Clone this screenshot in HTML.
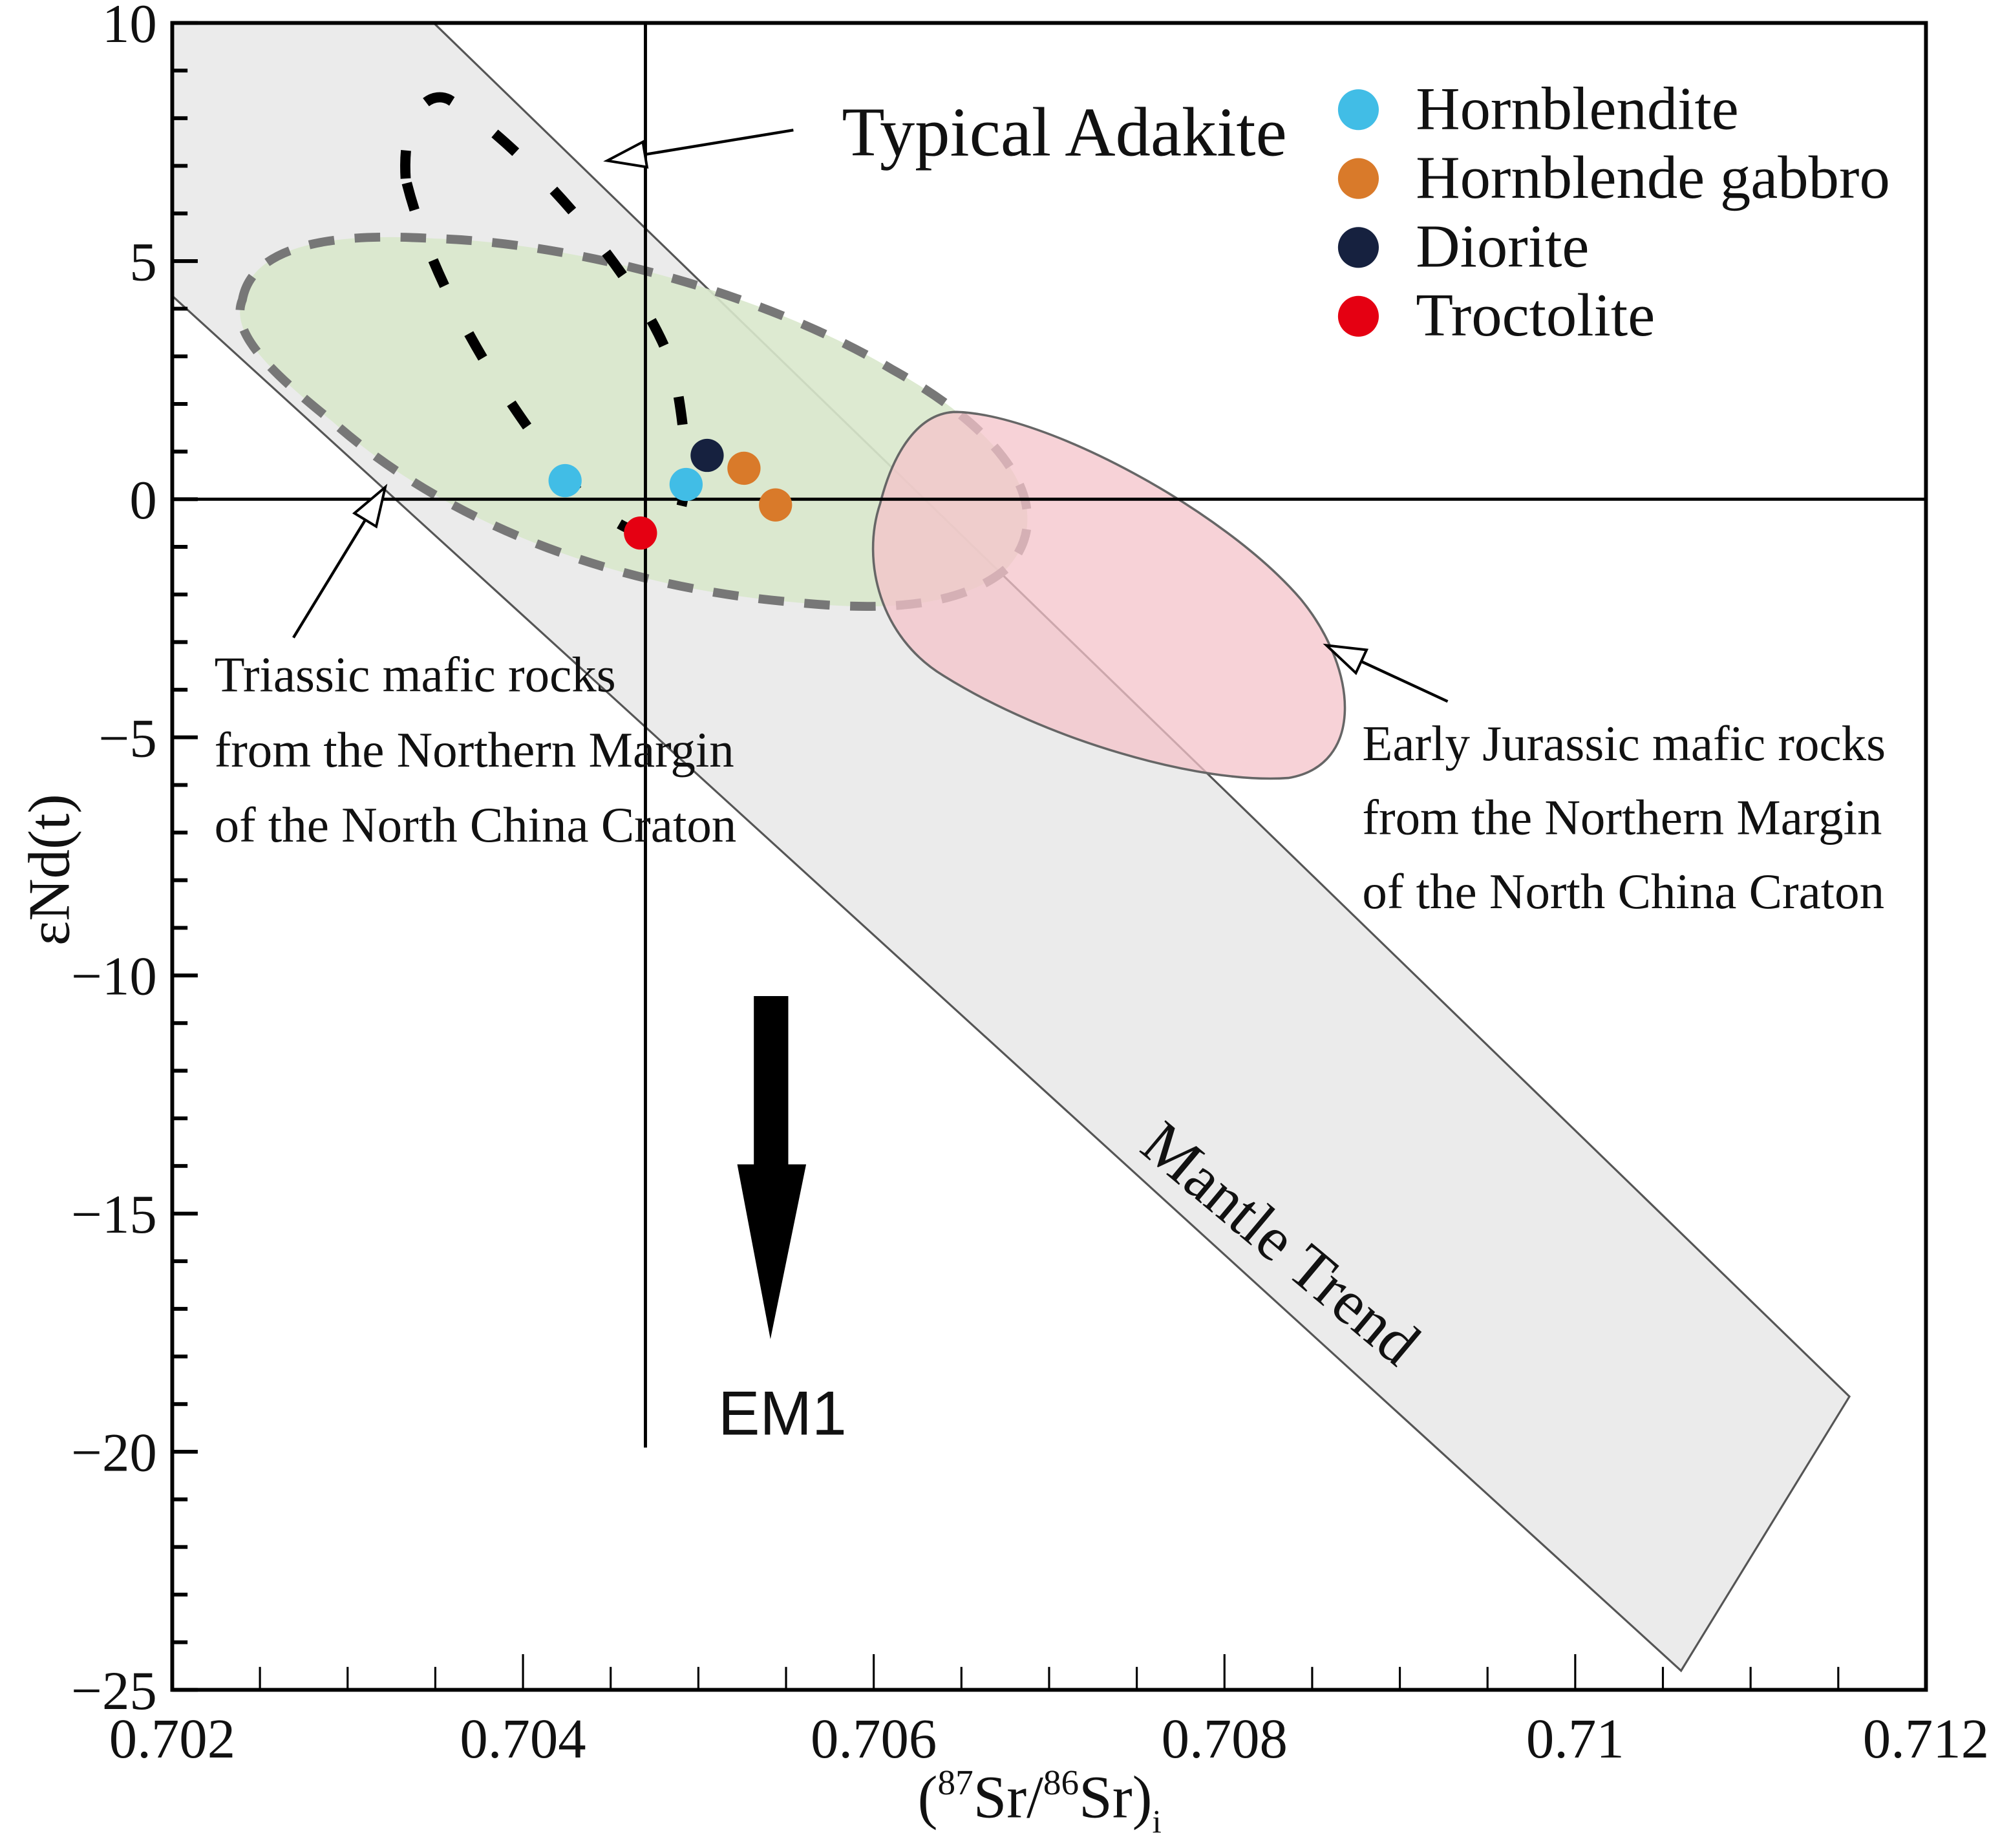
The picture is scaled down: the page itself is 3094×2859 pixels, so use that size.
<!DOCTYPE html>
<html><head><meta charset="utf-8"><style>
html,body{margin:0;padding:0;background:#fff}
svg{display:block}
text{font-family:"Liberation Serif",serif;fill:#111}
</style></head><body>
<svg width="3094" height="2859" viewBox="0 0 1568 1449" xmlns="http://www.w3.org/2000/svg">
<g id="bg"></g>
<g id="marks"></g>
<g id="axes"></g>
</svg>
<script>
const xTicksMajor=[0.702,0.704,0.706,0.708,0.71,0.712];
const xTickLabels=["0.702","0.704","0.706","0.708","0.71","0.712"];
const yTicksMajor=[10,5,0,-5,-10,-15,-20,-25];
const yTickLabels=["10","5","0","\u22125","\u221210","\u221215","\u221220","\u221225"];
const hornblenditeX=[0.70424,0.70493];
const hornblenditeY=[0.39,0.31];
const gabbroX=[0.70526,0.70544];
const gabbroY=[0.65,-0.12];
const dioriteX=[0.70505];
const dioriteY=[0.92];
const troctoliteX=[0.70467];
const troctoliteY=[-0.71];

const L=135,R=1510,T=18,B=1325;
const X=v=>L+(v-0.702)/0.010*(R-L);
const Y=v=>T+(10-v)/35*(B-T);
const NS="http://www.w3.org/2000/svg";
function mk(parent,tag,attrs,txt){const e=document.createElementNS(NS,tag);for(const k in attrs)e.setAttribute(k,attrs[k]);if(txt!==undefined)e.textContent=txt;document.getElementById(parent).appendChild(e);return e;}

let e;
e=mk('bg','polygon',{points:"135,18 340,18 1450,1095 1318,1310 135,232",fill:"#ebebeb",stroke:"#555","stroke-width":1.6});

e=mk('bg','path',{d:"M190,235 C200,180 300,185 340,187 C450,190 600,230 700,290 C790,340 830,400 790,445 C750,480 680,478 620,472 C480,460 350,410 260,330 C210,290 180,260 190,235 Z",fill:"#d9e8cc","fill-opacity":0.9,stroke:"#777","stroke-width":7,"stroke-dasharray":"20 16"});

e=mk('bg','path',{d:"M750,323 C820,325 960,400 1020,470 C1065,525 1070,600 1010,610 C940,615 820,580 740,530 C690,500 675,440 690,395 C700,355 720,323 750,323 Z",fill:"#f4c3ca","fill-opacity":0.75,stroke:"#666","stroke-width":1.8});

e=mk('bg','path',{d:"M318,140 C315,90 335,70 352,78 C420,120 520,240 530,300 C545,380 535,420 515,420 C490,420 460,395 440,370 C400,320 340,230 318,140 Z",fill:"none",stroke:"#000","stroke-width":8,"stroke-dasharray":"22 42"});

e=mk('bg','line',{x1:L,y1:Y(0),x2:R,y2:Y(0),stroke:"#000","stroke-width":2.5});

e=mk('bg','line',{x1:506,y1:T,x2:506,y2:1135,stroke:"#000","stroke-width":2.5});


function pts(xs,ys,color,name){for(let i=0;i<xs.length;i++){const c=mk('marks','circle',{cx:X(xs[i]),cy:Y(ys[i]),r:13,fill:color});}}
pts(hornblenditeX,hornblenditeY,"#41bde6","hornblendite-point");
pts(gabbroX,gabbroY,"#d97a2a","hornblende-gabbro-point");
pts(dioriteX,dioriteY,"#16213f","diorite-point");
pts(troctoliteX,troctoliteY,"#e50012","troctolite-point");

function arrow(x1,y1,x2,y2,name){const g=mk('marks','g',{});
 const a=Math.atan2(y2-y1,x2-x1),hl=30,hw=10;
 const bx=x2-hl*Math.cos(a),by=y2-hl*Math.sin(a);
 const l=document.createElementNS(NS,'line');l.setAttribute('x1',x1);l.setAttribute('y1',y1);l.setAttribute('x2',bx);l.setAttribute('y2',by);l.setAttribute('stroke','#000');l.setAttribute('stroke-width',2.2);g.appendChild(l);
 const p=document.createElementNS(NS,'polygon');
 p.setAttribute('points',`${x2},${y2} ${bx+hw*Math.sin(a)},${by-hw*Math.cos(a)} ${bx-hw*Math.sin(a)},${by+hw*Math.cos(a)}`);
 p.setAttribute('fill','#fff');p.setAttribute('stroke','#000');p.setAttribute('stroke-width',2);g.appendChild(p);}
arrow(622,102,476,126,'adakite-arrow');
arrow(230,500,302,382,'triassic-arrow');
arrow(1135,550,1040,506,'jurassic-arrow');

e=mk('marks','polygon',{points:"591,781 618,781 618,913 632,913 604,1050 578,913 591,913",fill:"#000"});

e=mk('marks','text',{x:563,y:1125,"font-size":49,style:'font-family:"Liberation Sans",sans-serif'},"EM1");

e=mk('marks','text',{x:0,y:0,"font-size":49,transform:"translate(892,902) rotate(40)"},"Mantle Trend");

e=mk('marks','text',{x:660,y:122,"font-size":55},"Typical Adakite");

["Triassic mafic rocks","from the Northern Margin","of the North China Craton"].forEach((t,i)=>{e=mk('marks','text',{x:168,y:542+i*59,"font-size":39},t);});
["Early Jurassic mafic rocks","from the Northern Margin","of the North China Craton"].forEach((t,i)=>{e=mk('marks','text',{x:1068,y:596+i*58,"font-size":39},t);});

const legNames=["Hornblendite","Hornblende gabbro","Diorite","Troctolite"];
const legColors=["#41bde6","#d97a2a","#16213f","#e50012"];
legNames.forEach((n,i)=>{const yy=86+i*54;
 e=mk('marks','circle',{cx:1065,cy:yy,r:16,fill:legColors[i]});
 e=mk('marks','text',{x:1110,y:yy+15,"font-size":48},n);});

e=mk('axes','rect',{x:L,y:T,width:R-L,height:B-T,fill:"none",stroke:"#000","stroke-width":3});

for(let k=0;k<=20;k++){const v=0.702+k*0.0005,maj=k%4===0;
 e=mk('axes','line',{x1:X(v),y1:B,x2:X(v),y2:B-(maj?28:18),stroke:"#000","stroke-width":1.6});}
xTicksMajor.forEach((v,i)=>{e=mk('axes','text',{x:X(v),y:1378,"font-size":44,"text-anchor":"middle"},xTickLabels[i]);});
for(let v=10;v>=-25;v--){const maj=v%5===0;
 e=mk('axes','line',{x1:L,y1:Y(v),x2:L+(maj?20:12),y2:Y(v),stroke:"#000","stroke-width":3});}
yTicksMajor.forEach((v,i)=>{e=mk('axes','text',{x:123,y:Y(v)+15,"font-size":43,"text-anchor":"end"},yTickLabels[i]);});
e=mk('axes','text',{x:0,y:0,"font-size":46,"text-anchor":"middle",transform:"translate(54,682) rotate(-90)"},"εNd(t)");

const xt=mk('axes','text',{x:815,y:1425,"font-size":47,"text-anchor":"middle"});

xt.innerHTML='(<tspan font-size="28" dy="-18">87</tspan><tspan dy="18">Sr/</tspan><tspan font-size="28" dy="-18">86</tspan><tspan dy="18">Sr)</tspan><tspan font-size="26" dy="12">i</tspan>';
</script>
</body></html>
